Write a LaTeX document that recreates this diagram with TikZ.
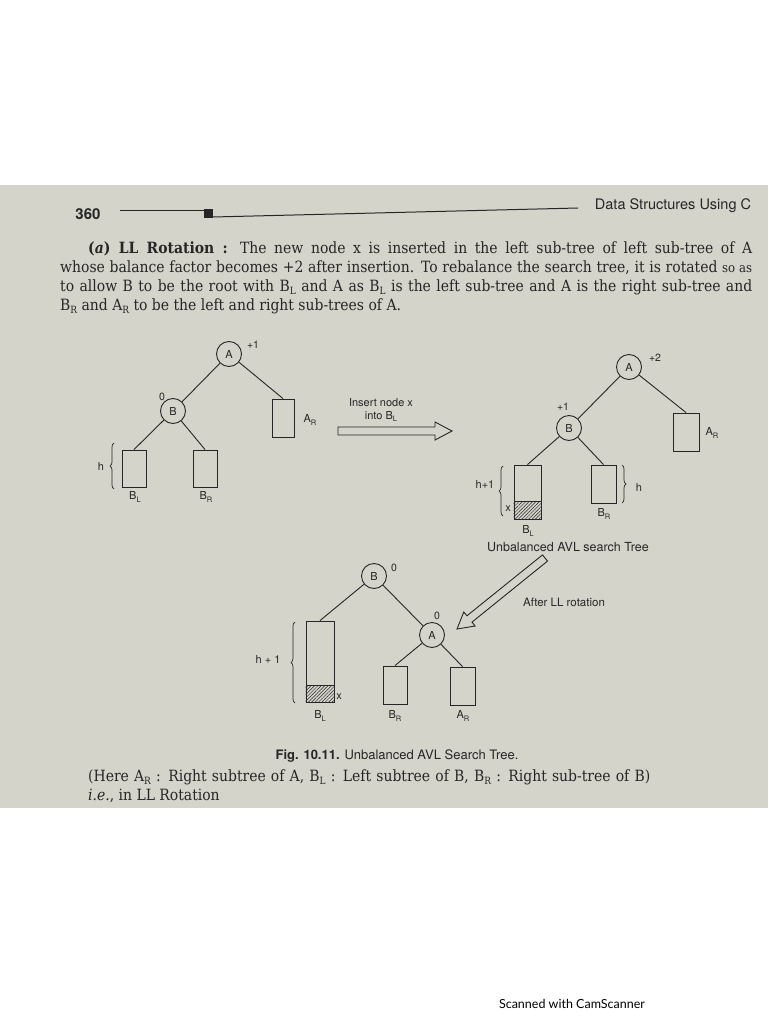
\documentclass[tikz,border=0pt]{standalone}
\usepackage{fontspec}
\setsansfont{TeX Gyre Heros}
\setmainfont{DejaVu Serif Condensed}
\newfontfamily\camfont{Lato}
\usetikzlibrary{calc,patterns.meta,decorations.pathreplacing}
\definecolor{page}{RGB}{212,212,203}
\definecolor{ink}{RGB}{38,38,38}
\newcommand{\lsub}[2]{#1\raisebox{-0.4ex}{\fontsize{7.5}{8}\selectfont #2}}
\newcommand{\rsub}[2]{#1\raisebox{-0.45ex}{\fontsize{10}{10}\selectfont #2}}
\begin{document}
\begin{tikzpicture}[x=1pt,y=-1pt,
  tn/.style={circle,draw=ink,line width=0.9pt,minimum size=25pt,inner sep=0pt,
    font=\sffamily\fontsize{11}{11}\selectfont,text=ink},
  sb/.style={rectangle,draw=ink,line width=0.9pt,inner sep=0pt},
  lbl/.style={font=\sffamily\fontsize{11}{12}\selectfont,text=ink,inner sep=0pt},
  bf/.style={font=\sffamily\fontsize{10.5}{11}\selectfont,text=ink,inner sep=0pt},
  edge/.style={draw=ink,line width=0.9pt},
  brc/.style={decorate,decoration={brace,amplitude=4pt},draw=ink,line width=0.7pt},
  body/.style={font=\fontsize{15.5}{18}\selectfont,text=ink,inner sep=0pt,anchor=west},
  hatch/.style={pattern={Lines[angle=45,distance=2.4pt,line width=0.5pt]},pattern color=ink},
  hollow/.style={draw=ink,line width=0.9pt,fill=page,line join=miter}]
\useasboundingbox (0,0) rectangle (768,1024);
\fill[white] (0,0) rectangle (768,1024);
\fill[page] (0,185) rectangle (768,808);

% header
\node[font=\sffamily\bfseries\fontsize{15}{15}\selectfont,text=ink,inner sep=0pt] (pg) at (88,214) {360};
\node[font=\sffamily\fontsize{14.5}{15}\selectfont,text=ink,inner sep=0pt] (run) at (673,206) {Data Structures Using C};
\draw[ink,line width=0.6pt] (120,210) -- (205,210);
\fill[ink] (204,209) rectangle (213,218);
\draw[ink,line width=1pt] (213,217) -- (578,208);

% paragraph
\node[body] (p1) at (88,249) {\makebox[664pt][s]{\textbf{(\textit{a}) LL Rotation :} The new node x is inserted in the left sub-tree of left sub-tree of A}};
\node[body] (p2) at (60,268) {\makebox[692pt][s]{whose balance factor becomes +2 after insertion. To rebalance the search tree, it is rotated {\fontsize{13}{16}\selectfont so as}}};
\node[body] (p3) at (60,287) {\makebox[692pt][s]{to allow B to be the root with \rsub{B}{L} and A as \rsub{B}{L} is the left sub-tree and A is the right sub-tree and}};
\node[body] (p4) at (60,306) {\rsub{B}{R} and \rsub{A}{R} to be the left and right sub-trees of A.};

% ---------- tree 1 ----------
\node[tn] (A1) at (229,354) {A};
\node[bf] (A1f) at (253,345) {+1};
\node[tn] (B1) at (173,411) {B};
\node[bf] (B1f) at (162,397) {0};
\node[sb,minimum width=22pt,minimum height=38pt] (AR1) at (283,418) {};
\node[sb,minimum width=24pt,minimum height=37pt] (BL1) at (134,468.5) {};
\node[sb,minimum width=24pt,minimum height=37pt] (BR1) at (205,468.5) {};
\node[lbl] (AR1l) at (310,420) {\lsub{A}{R}};
\node[lbl] (BL1l) at (135,497) {\lsub{B}{L}};
\node[lbl] (BR1l) at (206,497) {\lsub{B}{R}};
\draw[edge] (A1) -- (B1);
\draw[edge] (A1) -- (AR1.north);
\draw[edge] (B1) -- (BL1.north);
\draw[edge] (B1) -- (BR1.north);
\coordinate (h1b) at (114,489);
\coordinate (h1t) at (114,443);
\draw[brc] (h1b) -- (h1t);
\node[lbl] (h1) at (101,466) {h};

% insert arrow
\node[lbl,align=center] (ins) at (381,410) {Insert node x\\[1pt]into \lsub{B}{L}};
\draw[hollow] (338,427) -- (435,427) -- (435,422) -- (452,431) -- (435,440) -- (435,435) -- (338,435) -- cycle;

% ---------- tree 2 ----------
\node[tn] (A2) at (629,367) {A};
\node[bf] (A2f) at (655,358) {+2};
\node[tn] (B2) at (569,428) {B};
\node[bf] (B2f) at (563,407) {+1};
\node[sb,minimum width=26pt,minimum height=38pt] (AR2) at (686,432) {};
\node[sb,minimum width=27pt,minimum height=54pt] (BL2) at (527.5,492) {};
\node[sb,minimum width=25pt,minimum height=38pt] (BR2) at (603.5,484) {};
\fill[hatch] (BL2.south west) rectangle ($(BL2.south east)+(0,-18)$);
\draw[edge] ($(BL2.south west)+(0,-18)$) -- ($(BL2.south east)+(0,-18)$);
\node[lbl] (AR2l) at (712,433) {\lsub{A}{R}};
\node[lbl] (BL2l) at (528,531) {\lsub{B}{L}};
\node[lbl] (BR2l) at (604,514) {\lsub{B}{R}};
\draw[edge] (A2) -- (B2);
\draw[edge] (A2) -- (AR2.north);
\draw[edge] (B2) -- (BL2.north);
\draw[edge] (B2) -- (BR2.north);
\coordinate (h2b) at (503,516);
\coordinate (h2t) at (503,466);
\draw[brc] (h2b) -- (h2t);
\node[lbl] (h2) at (485,484) {h+1};
\node[lbl] (x2) at (508,509) {x};
\coordinate (h3t) at (622,465);
\coordinate (h3b) at (622,503);
\draw[brc] (h3t) -- (h3b);
\node[lbl] (h3) at (639,487) {h};
\node[font=\sffamily\fontsize{12.5}{13}\selectfont,text=ink,inner sep=0pt] (unb) at (568,547) {Unbalanced AVL search Tree};

% rotation arrow
\draw[hollow] (547.5,561.1) -- (472.0,622.1) -- (475.1,626.0) -- (457,629) -- (463.8,612.0) -- (466.9,615.8) -- (542.5,554.9) -- cycle;
\node[font=\sffamily\fontsize{11.5}{12}\selectfont,text=ink,inner sep=0pt] (after) at (564,602) {After LL rotation};

% ---------- tree 3 ----------
\node[tn] (B3) at (374,576) {B};
\node[bf] (B3f) at (394,568) {0};
\node[tn] (A3) at (432,635) {A};
\node[bf] (A3f) at (437,616) {0};
\node[sb,minimum width=28pt,minimum height=81pt] (BL3) at (320,661.5) {};
\fill[hatch] (BL3.south west) rectangle ($(BL3.south east)+(0,-17)$);
\draw[edge] ($(BL3.south west)+(0,-17)$) -- ($(BL3.south east)+(0,-17)$);
\node[sb,minimum width=24pt,minimum height=38pt] (BR3) at (395,685) {};
\node[sb,minimum width=25pt,minimum height=38pt] (AR3) at (462.5,686) {};
\draw[edge] (B3) -- (BL3.north);
\draw[edge] (B3) -- (A3);
\draw[edge] (A3) -- (BR3.north);
\draw[edge] (A3) -- (AR3.north);
\node[lbl] (x3) at (339,697) {x};
\coordinate (h4b) at (295,703);
\coordinate (h4t) at (295,622);
\draw[brc] (h4b) -- (h4t);
\node[lbl] (h4) at (268,659) {h + 1};
\node[lbl] (BL3l) at (320,716) {\lsub{B}{L}};
\node[lbl] (BR3l) at (395,716) {\lsub{B}{R}};
\node[lbl] (AR3l) at (463,716) {\lsub{A}{R}};

% caption
\node[font=\sffamily\fontsize{13}{13}\selectfont,text=ink,inner sep=0pt] (cap) at (397,756) {\textbf{Fig. 10.11.} Unbalanced AVL Search Tree.};
\node[body] (c1) at (88,777) {\makebox[562pt][s]{(Here \rsub{A}{R} : Right subtree of A, \rsub{B}{L} : Left subtree of B, \rsub{B}{R} : Right sub-tree of B)}};
\node[body] (c2) at (88,796) {\textit{i.e.}, in LL Rotation};

% scanner note
\node[font=\camfont\fontsize{12.5}{13}\selectfont,text=black,inner sep=0pt] (cs) at (572,1004) {Scanned with CamScanner};
\end{tikzpicture}
\end{document}
